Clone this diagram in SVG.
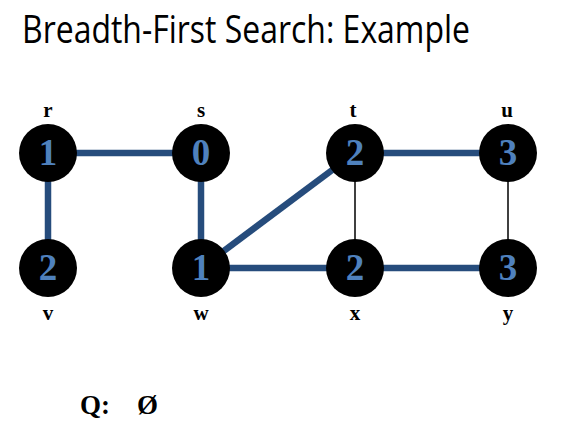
<svg xmlns="http://www.w3.org/2000/svg" width="586" height="429" viewBox="0 0 586 429">
<style>
.title{font-family:"Open Sans","Liberation Sans",sans-serif;font-size:38px;fill:#000}
.lbl{font-family:"Liberation Serif",serif;font-weight:bold;font-size:21px;fill:#000;text-anchor:middle}
.num{font-family:"Liberation Serif",serif;font-weight:bold;font-size:37px;fill:#4f81bd;text-anchor:middle}
.node{fill:#000}
.tree{stroke:#264c7c;stroke-width:6.5;fill:none}
.thin{stroke:#000;stroke-width:1.5;fill:none}
.q{font-family:"Liberation Serif",serif;font-weight:bold;font-size:27px;fill:#000}
</style>
<rect width="586" height="429" fill="#fff"/>
<text class="title" x="22" y="43" textLength="448" lengthAdjust="spacingAndGlyphs">Breadth-First Search: Example</text>
<g id="connectors">
<line class="tree" x1="48" y1="153" x2="201" y2="153"/>
<line class="tree" x1="48" y1="153" x2="48" y2="268"/>
<line class="tree" x1="201" y1="153" x2="201" y2="268"/>
<line class="tree" x1="201" y1="268" x2="355" y2="153"/>
<line class="tree" x1="201" y1="268" x2="355" y2="268"/>
<line class="tree" x1="355" y1="153" x2="508" y2="153"/>
<line class="tree" x1="355" y1="268" x2="508" y2="268"/>
<line class="thin" x1="355" y1="153" x2="355" y2="268"/>
<line class="thin" x1="508" y1="153" x2="508" y2="268"/>
</g>
<g id="node-r"><circle class="node" cx="48" cy="153" r="29"/><text class="num" x="48" y="165">1</text><text class="lbl" x="48" y="117">r</text></g>
<g id="node-s"><circle class="node" cx="201" cy="153" r="29"/><text class="num" x="201" y="165">0</text><text class="lbl" x="201" y="117">s</text></g>
<g id="node-t"><circle class="node" cx="355" cy="153" r="29"/><text class="num" x="355" y="165">2</text><text class="lbl" x="353" y="117">t</text></g>
<g id="node-u"><circle class="node" cx="508" cy="153" r="29"/><text class="num" x="508" y="165">3</text><text class="lbl" x="507" y="117">u</text></g>
<g id="node-v"><circle class="node" cx="48" cy="268" r="29"/><text class="num" x="48" y="280">2</text><text class="lbl" x="48" y="320">v</text></g>
<g id="node-w"><circle class="node" cx="201" cy="268" r="29"/><text class="num" x="201" y="280">1</text><text class="lbl" x="201" y="320">w</text></g>
<g id="node-x"><circle class="node" cx="355" cy="268" r="29"/><text class="num" x="355" y="280">2</text><text class="lbl" x="355" y="320">x</text></g>
<g id="node-y"><circle class="node" cx="508" cy="268" r="29"/><text class="num" x="508" y="280">3</text><text class="lbl" x="508" y="320">y</text></g>
<g id="queue"><text class="q" x="80" y="414">Q:</text><text class="q" x="137" y="414" fill="#0b1a33">Ø</text></g>
</svg>
